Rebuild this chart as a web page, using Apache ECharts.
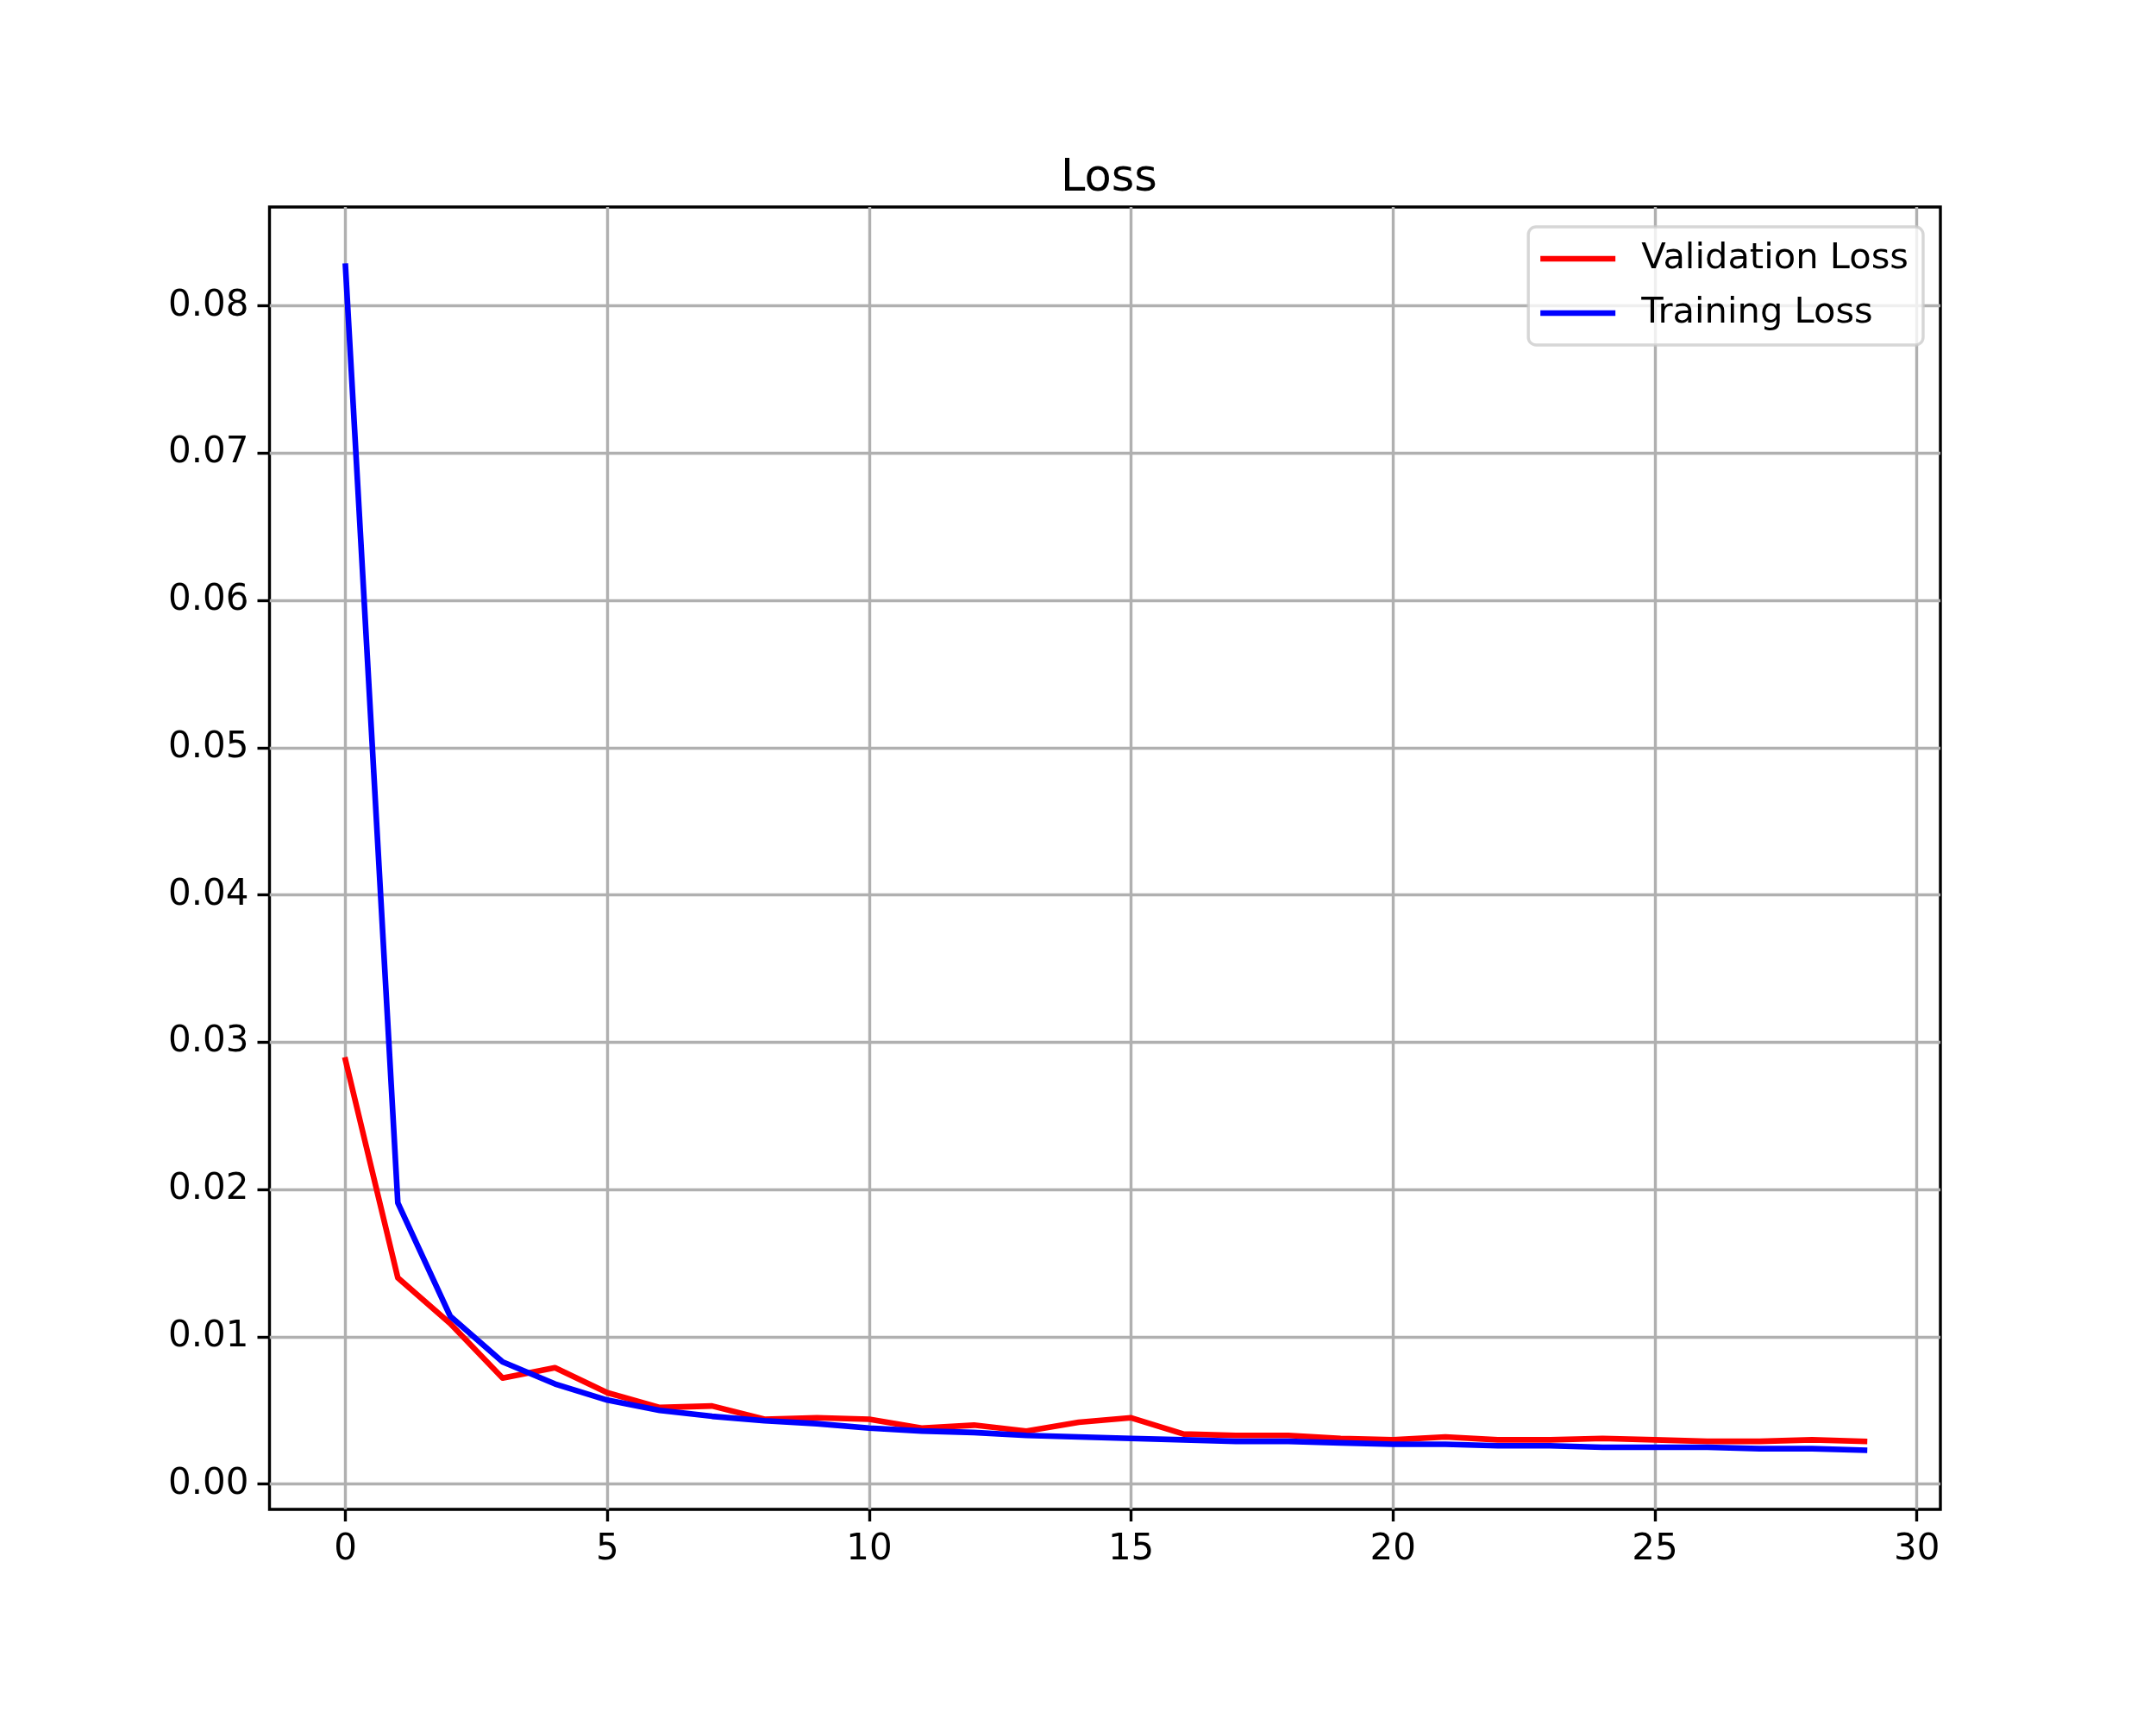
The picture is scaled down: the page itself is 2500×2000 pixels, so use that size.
<!DOCTYPE html>
<html>
<head>
<meta charset="utf-8">
<script src="https://cdn.jsdelivr.net/npm/echarts@6/dist/echarts.min.js"></script>
<style>
html,body{margin:0;padding:0;background:#fff;}
#chart{width:2500px;height:2000px;}
</style>
</head>
<body>
<div id="chart"></div>
<script>
const epochs = Array.from({length: 30}, (_, i) => i);
const validationLoss = [0.0288, 0.0140, 0.0109, 0.0072, 0.0079, 0.0062, 0.0052, 0.0053, 0.0044, 0.0045,
  0.0044, 0.0038, 0.0040, 0.0036, 0.0042, 0.0045, 0.0034, 0.0033, 0.0033, 0.0031,
  0.0030, 0.0032, 0.0030, 0.0030, 0.0031, 0.0030, 0.0029, 0.0029, 0.0030, 0.0029];
const trainingLoss = [0.0827, 0.0191, 0.0114, 0.0083, 0.0068, 0.0057, 0.0050, 0.0046, 0.0043, 0.0041,
  0.0038, 0.0036, 0.0035, 0.0033, 0.0032, 0.0031, 0.0030, 0.0029, 0.0029, 0.0028,
  0.0027, 0.0027, 0.0026, 0.0026, 0.0025, 0.0025, 0.0025, 0.0024, 0.0024, 0.0023];
const xTicks = [0, 5, 10, 15, 20, 25, 30];
const yTicks = [0, 0.01, 0.02, 0.03, 0.04, 0.05, 0.06, 0.07, 0.08];
const titleText = 'Loss';
const seriesNames = ['Validation Loss', 'Training Loss'];

// matplotlib-style 5% margins
const xMinD = Math.min(...epochs), xMaxD = Math.max(...epochs);
const xPad = (xMaxD - xMinD) * 0.05;
const allY = validationLoss.concat(trainingLoss);
const yMinD = Math.min(...allY), yMaxD = Math.max(...allY);
const yPad = (yMaxD - yMinD) * 0.05;

const FONT = 'DejaVu Sans';
const chart = echarts.init(document.getElementById('chart'), null, {renderer: 'canvas'});
const tickStyle = {show: true, inside: false, length: 14, lineStyle: {color: '#000', width: 3.4}};
chart.setOption({
  animation: false,
  backgroundColor: '#ffffff',
  title: {
    text: titleText,
    left: 1281, textAlign: 'center',
    top: 177,
    textStyle: {fontFamily: FONT, fontSize: 51, fontWeight: 'normal', color: '#000'}
  },
  grid: {
    left: 312.5, right: 250, top: 240, bottom: 250,
    show: true, borderColor: '#000', borderWidth: 3.4, backgroundColor: 'transparent'
  },
  legend: {
    orient: 'vertical',
    right: 270, top: 263,
    padding: [16, 17, 16, 14],
    icon: 'rect',
    itemWidth: 87, itemHeight: 6.5, itemGap: 21,
    backgroundColor: 'rgba(255,255,255,0.8)',
    borderColor: 'rgba(204,204,204,0.8)', borderWidth: 3.4, borderRadius: 9,
    textStyle: {fontFamily: FONT, fontSize: 41.6, lineHeight: 42, color: '#000', padding: [0, 0, 0, 25]},
    data: seriesNames
  },
  xAxis: {
    type: 'value',
    min: xMinD - xPad, max: xMaxD + xPad,
    axisLine: {show: false, onZero: false},
    axisTick: Object.assign({customValues: xTicks}, tickStyle),
    splitLine: {show: true, lineStyle: {color: '#b0b0b0', width: 3.4}},
    axisLabel: {customValues: xTicks, margin: 26, fontFamily: FONT, fontSize: 42, color: '#000',
      formatter: v => String(v)}
  },
  yAxis: {
    type: 'value',
    min: yMinD - yPad, max: yMaxD + yPad,
    axisLine: {show: false, onZero: false},
    axisTick: Object.assign({customValues: yTicks}, tickStyle),
    splitLine: {show: true, lineStyle: {color: '#b0b0b0', width: 3.4}},
    axisLabel: {customValues: yTicks, margin: 24, fontFamily: FONT, fontSize: 42, color: '#000',
      formatter: v => v.toFixed(2)}
  },
  series: [
    {
      name: seriesNames[0], type: 'line', symbol: 'none',
      data: epochs.map((e, i) => [e, validationLoss[i]]),
      lineStyle: {color: '#ff0000', width: 6.6, cap: 'square', join: 'round'},
      itemStyle: {color: '#ff0000'}, z: 3
    },
    {
      name: seriesNames[1], type: 'line', symbol: 'none',
      data: epochs.map((e, i) => [e, trainingLoss[i]]),
      lineStyle: {color: '#0000ff', width: 6.6, cap: 'square', join: 'round'},
      itemStyle: {color: '#0000ff'}, z: 4
    }
  ]
});
</script>
</body>
</html>
